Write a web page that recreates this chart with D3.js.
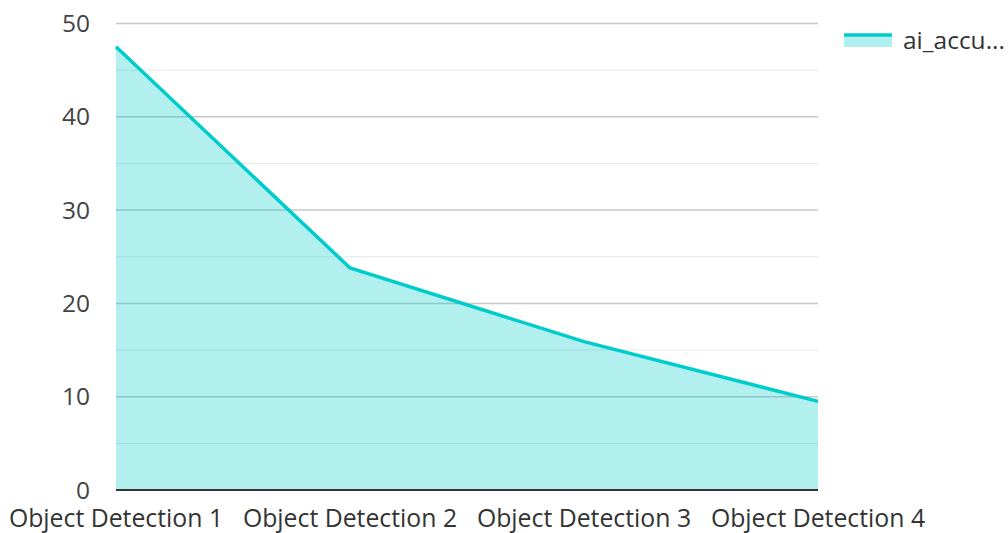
<!DOCTYPE html>
<html><head><meta charset="utf-8">
<script src="https://cdn.jsdelivr.net/npm/d3@7"></script>
<style>body{margin:0;background:#fff}svg{display:block}text{font-family:"Open Sans",sans-serif}</style>
</head><body>
<svg id="c" width="1008" height="533"></svg>
<script>
const categories = ["Object Detection 1","Object Detection 2","Object Detection 3","Object Detection 4"];
const values = [47.5, 23.8, 15.9, 9.5];
const majorTicks = [0,10,20,30,40,50];
const minorTicks = [5,15,25,35,45];
const seriesName = "ai_accu...";

const svg = d3.select("#c");
const x = d3.scalePoint().domain(categories).range([116, 818]);
const y = d3.scaleLinear().domain([0,50]).range([490, 23.5]);

// grid
svg.append("g").selectAll("line").data(minorTicks).join("line")
  .attr("x1",116).attr("x2",818).attr("y1",d=>y(d)).attr("y2",d=>y(d))
  .attr("stroke","#e6e6e6").attr("stroke-width",1);
svg.append("g").selectAll("line").data(majorTicks.filter(d=>d>0)).join("line")
  .attr("x1",116).attr("x2",818).attr("y1",d=>y(d)).attr("y2",d=>y(d))
  .attr("stroke","#c8c8c8").attr("stroke-width",1.5);

const pts = categories.map((c,i)=>({c, v: values[i]}));
svg.append("path").datum(pts)
  .attr("d", d3.area().x(d=>x(d.c)).y0(y(0)).y1(d=>y(d.v)))
  .attr("fill","rgba(0,204,204,0.3)");
svg.append("path").datum(pts)
  .attr("d", d3.line().x(d=>x(d.c)).y(d=>y(d.v)))
  .attr("fill","none").attr("stroke","#00cccc").attr("stroke-width",3.5);

// baseline
svg.append("line").attr("x1",116).attr("x2",818).attr("y1",y(0)).attr("y2",y(0))
  .attr("stroke","#333").attr("stroke-width",2);

// y axis labels
svg.append("g").selectAll("text").data(majorTicks).join("text")
  .attr("x",90).attr("y",d=>y(d)).attr("dy","0.35em").attr("text-anchor","end")
  .attr("font-size",24.5).attr("fill","#444").text(d=>d);

// x labels
svg.append("g").selectAll("text").data(categories).join("text")
  .attr("x",d=>x(d)).attr("y",527).attr("text-anchor","middle")
  .attr("font-size",24.8).attr("fill","#333").text(d=>d);

// legend
svg.append("rect").attr("x",844).attr("y",34).attr("width",48).attr("height",13)
  .attr("fill","rgba(0,204,204,0.3)");
svg.append("line").attr("x1",844).attr("x2",892).attr("y1",35).attr("y2",35)
  .attr("stroke","#00cccc").attr("stroke-width",3.5);
svg.append("text").attr("x",903).attr("y",40).attr("dy","0.35em")
  .attr("font-size",24.5).attr("fill","#333").text(seriesName);
</script>
</body></html>
